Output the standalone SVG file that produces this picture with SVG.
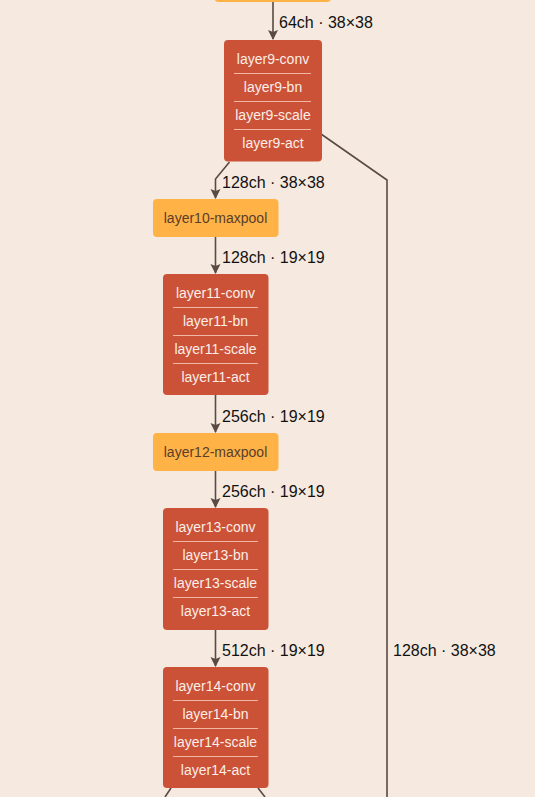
<svg xmlns="http://www.w3.org/2000/svg" width="535" height="797" viewBox="0 0 535 797">
<style>
.bg{fill:#F6EAE0}
.blk{fill:#CB5236}
.pool{fill:#FFB347}
.sep{stroke:#F0B7A6;stroke-width:1}
.bt{font-family:"Liberation Sans",Arial,sans-serif;font-size:14px;fill:#FBEDE8;text-anchor:middle}
.pt{font-family:"Liberation Sans",Arial,sans-serif;font-size:14px;fill:#5A3D2B;text-anchor:middle}
.lbl{font-family:"Liberation Sans",Arial,sans-serif;font-size:16px;fill:#111111}
.edge{fill:none;stroke:#5A4A42;stroke-width:1.6}
</style>
<defs>
<marker id="arr" markerWidth="10" markerHeight="12" refX="9" refY="5" orient="auto" markerUnits="userSpaceOnUse" viewBox="0 0 10 10">
<path d="M0,0 L10,5 L0,10 L2,5 z" fill="#5A4A42"/>
</marker>
</defs>
<rect class="bg" x="0" y="0" width="535" height="797"/>
<g id="connectors">
<path class="edge" d="M273,2 L273,39" marker-end="url(#arr)"/>
<path class="edge" d="M229.5,162 L215.5,179 L215.5,198" marker-end="url(#arr)"/>
<path class="edge" d="M215.5,237 L215.5,273" marker-end="url(#arr)"/>
<path class="edge" d="M215.5,395 L215.5,432" marker-end="url(#arr)"/>
<path class="edge" d="M215.5,471 L215.5,507" marker-end="url(#arr)"/>
<path class="edge" d="M215.5,630 L215.5,666" marker-end="url(#arr)"/>
<path class="edge" d="M321,134 L387,180 L387,797"/>
<path class="edge" d="M171,788 L165,797"/>
<path class="edge" d="M258,788 L265,797"/>
<text class="lbl" x="279" y="28">64ch · 38×38</text>
<text class="lbl" x="222" y="188">128ch · 38×38</text>
<text class="lbl" x="222" y="263">128ch · 19×19</text>
<text class="lbl" x="222" y="422">256ch · 19×19</text>
<text class="lbl" x="222" y="497">256ch · 19×19</text>
<text class="lbl" x="222" y="656">512ch · 19×19</text>
<text class="lbl" x="393" y="656">128ch · 38×38</text>
</g>
<g id="layer8">
<rect class="pool" x="214.5" y="-20" width="116.5" height="22" rx="4"/>
</g>
<g id="layer9">
<rect class="blk" x="224" y="40" width="98" height="121.5" rx="4"/>
<line class="sep" x1="234" y1="73.5" x2="311" y2="73.5"/>
<line class="sep" x1="234" y1="101.5" x2="311" y2="101.5"/>
<line class="sep" x1="234" y1="129.5" x2="311" y2="129.5"/>
<text class="bt" x="273" y="64">layer9-conv</text>
<text class="bt" x="273" y="92">layer9-bn</text>
<text class="bt" x="273" y="120">layer9-scale</text>
<text class="bt" x="273" y="148">layer9-act</text>
</g>
<g id="layer10">
<rect class="pool" x="153" y="199" width="125.5" height="38" rx="4"/>
<text class="pt" x="215.5" y="223">layer10-maxpool</text>
</g>
<g id="layer11">
<rect class="blk" x="163" y="274" width="105.5" height="121" rx="4"/>
<line class="sep" x1="173" y1="307.5" x2="258" y2="307.5"/>
<line class="sep" x1="173" y1="335.5" x2="258" y2="335.5"/>
<line class="sep" x1="173" y1="363.5" x2="258" y2="363.5"/>
<text class="bt" x="215.5" y="298">layer11-conv</text>
<text class="bt" x="215.5" y="326">layer11-bn</text>
<text class="bt" x="215.5" y="354">layer11-scale</text>
<text class="bt" x="215.5" y="382">layer11-act</text>
</g>
<g id="layer12">
<rect class="pool" x="153" y="433" width="125.5" height="38" rx="4"/>
<text class="pt" x="215.5" y="457">layer12-maxpool</text>
</g>
<g id="layer13">
<rect class="blk" x="163" y="508" width="105.5" height="122" rx="4"/>
<line class="sep" x1="173" y1="541.5" x2="258" y2="541.5"/>
<line class="sep" x1="173" y1="569.5" x2="258" y2="569.5"/>
<line class="sep" x1="173" y1="597.5" x2="258" y2="597.5"/>
<text class="bt" x="215.5" y="532">layer13-conv</text>
<text class="bt" x="215.5" y="560">layer13-bn</text>
<text class="bt" x="215.5" y="588">layer13-scale</text>
<text class="bt" x="215.5" y="616">layer13-act</text>
</g>
<g id="layer14">
<rect class="blk" x="163" y="667" width="105.5" height="121" rx="4"/>
<line class="sep" x1="173" y1="700.5" x2="258" y2="700.5"/>
<line class="sep" x1="173" y1="728.5" x2="258" y2="728.5"/>
<line class="sep" x1="173" y1="756.5" x2="258" y2="756.5"/>
<text class="bt" x="215.5" y="691">layer14-conv</text>
<text class="bt" x="215.5" y="719">layer14-bn</text>
<text class="bt" x="215.5" y="747">layer14-scale</text>
<text class="bt" x="215.5" y="775">layer14-act</text>
</g>
</svg>
